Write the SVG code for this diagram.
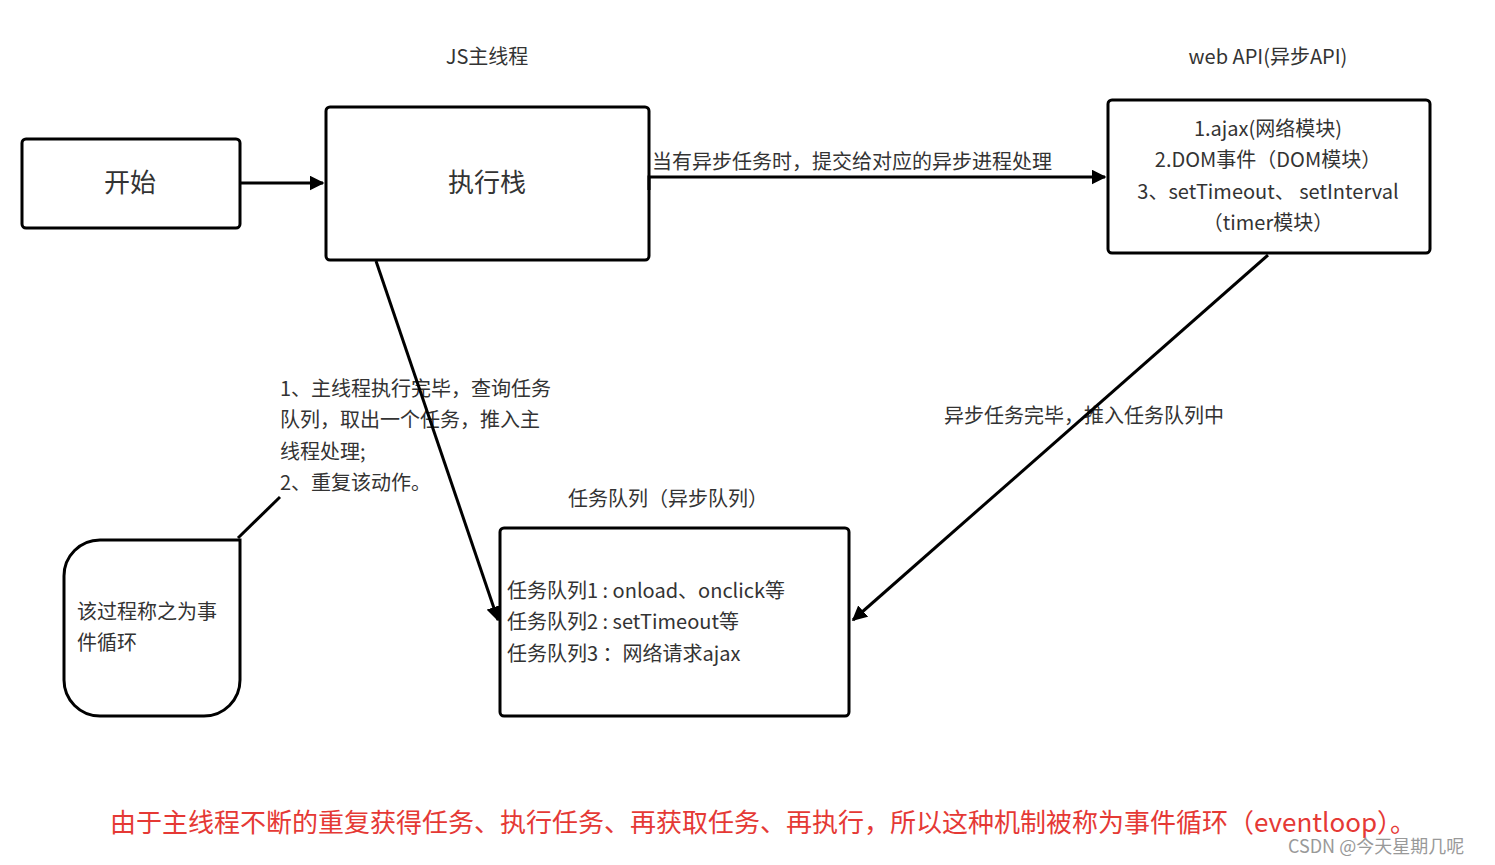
<svg xmlns="http://www.w3.org/2000/svg" width="1495" height="865" viewBox="0 0 1495 865">
<style>
text{font-family:"Noto Sans CJK SC","Noto Sans",sans-serif;fill:#333}
.box{fill:#fff;stroke:#000;stroke-width:3}
.ln{stroke:#000;stroke-width:3;fill:none}
</style>
<defs><marker id="a" viewBox="0 0 10 10" refX="9" refY="5" markerWidth="5" markerHeight="5" orient="auto"><path d="M0,0L10,5L0,10z" fill="#000"/></marker></defs>
<rect width="1495" height="865" fill="#fff"/>
<text x="487" y="64" font-size="20" text-anchor="middle">JS主线程</text>
<text x="1268" y="64" font-size="20" text-anchor="middle">web API(异步API)</text>
<g id="start"><rect class="box" x="22" y="139" width="218" height="89" rx="4"/><text x="130" y="192" font-size="26" text-anchor="middle">开始</text></g>
<g id="stack"><rect class="box" x="326" y="107" width="323" height="153" rx="4"/><text x="487" y="192" font-size="26" text-anchor="middle">执行栈</text></g>
<g id="webapi"><rect class="box" x="1108" y="100" width="322" height="153" rx="4"/>
<g font-size="20" text-anchor="middle"><text x="1268" y="136">1.ajax(网络模块)</text><text x="1268" y="167">2.DOM事件（DOM模块）</text><text x="1268" y="199">3、setTimeout、 setInterval</text><text x="1268" y="230">（timer模块）</text></g></g>
<g id="queue"><rect class="box" x="500" y="528" width="349" height="188" rx="4"/>
<g font-size="20"><text x="507" y="598">任务队列1 : onload、onclick等</text><text x="507" y="629">任务队列2 : setTimeout等</text><text x="507" y="661">任务队列3 ：网络请求ajax</text></g></g>
<text x="668" y="506" font-size="20" text-anchor="middle">任务队列（异步队列）</text>
<g id="loop"><path class="box" d="M100,540H240V680A36,36 0 0 1 204,716H100A36,36 0 0 1 64,680V576A36,36 0 0 1 100,540Z"/>
<g font-size="20"><text x="77" y="619">该过程称之为事</text><text x="77" y="650">件循环</text></g></g>
<g font-size="20"><text x="280" y="396">1、主线程执行完毕，查询任务</text><text x="280" y="427">队列，取出一个任务，推入主</text><text x="280" y="459">线程处理;</text><text x="280" y="490">2、重复该动作。</text></g>
<text x="652" y="169" font-size="20">当有异步任务时，提交给对应的异步进程处理</text>
<text x="944" y="423" font-size="20">异步任务完毕，推入任务队列中</text>
<g id="connectors">
<line class="ln" x1="240" y1="183" x2="323" y2="183" marker-end="url(#a)"/>
<path class="ln" d="M649,190V177H1105" marker-end="url(#a)"/>
<line class="ln" x1="1268" y1="255" x2="853" y2="620" marker-end="url(#a)"/>
<line class="ln" x1="376" y1="261" x2="498" y2="620" marker-end="url(#a)"/>
<line class="ln" x1="238" y1="538" x2="280" y2="497"/>
</g>
<text x="110" y="832" font-size="26" fill="#e53935" style="fill:#e53935">由于主线程不断的重复获得任务、执行任务、再获取任务、再执行，所以这种机制被称为事件循环（eventloop）。</text>
<text x="1288" y="853" font-size="18" style="fill:#999">CSDN @今天星期几呢</text>
</svg>
